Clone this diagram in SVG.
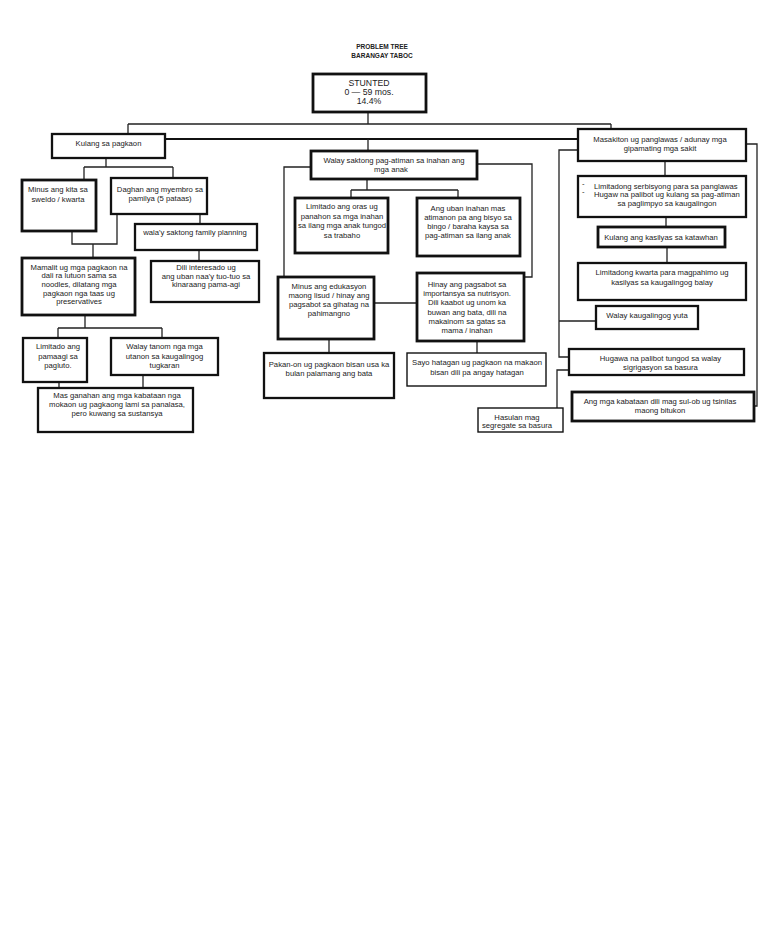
<svg xmlns="http://www.w3.org/2000/svg" width="768" height="932" viewBox="0 0 768 932">
<style>
.bg{fill:#fff}
.box{fill:#fff;stroke:#111;stroke-width:2.3}
.xb{fill:#fff;stroke:#111;stroke-width:2.8}
.tb{fill:#fff;stroke:#111;stroke-width:1.4}
.c{fill:none;stroke:#222;stroke-width:1.3}
.ct{fill:none;stroke:#111;stroke-width:2}
text{font-family:"Liberation Sans",Arial,sans-serif;font-size:7.7px;fill:#222;text-anchor:middle}
.big{font-size:8.7px}
.ttl{font-size:6.5px;font-weight:bold}
.st{text-anchor:start}
</style>
<rect class="bg" x="0" y="0" width="768" height="932"/>
<g id="title">
<text class="ttl" x="382" y="48.5">PROBLEM TREE</text>
<text class="ttl" x="382" y="57.5">BARANGAY TABOC</text>
</g>
<g id="connectors">
<path class="c" d="M368,112V124M128,124H611M128,124V134M611,124V129"/>
<path class="ct" d="M165,139H578"/>
<path class="c" d="M368,139V151"/>
<path class="c" d="M477,164H532V277H524"/>
<path class="c" d="M311,167H284V277"/>
<path class="c" d="M367,179V190M351,190H458M351,190V198M458,190V198"/>
<path class="c" d="M106,158V167M84,167H173M84,167V180M173,167V178"/>
<path class="c" d="M200,214V224M199,250V261"/>
<path class="c" d="M72,231V244H117V214M93,244V258"/>
<path class="c" d="M85,315V328M58,328H162M58,328V338M162,328V338"/>
<path class="c" d="M59,382V388M143,375V388"/>
<path class="c" d="M374,303H417"/>
<path class="c" d="M329,339V353M477,341V353"/>
<path class="c" d="M665,161V176M666,217V227M667,247V263"/>
<path class="c" d="M578,150H559V357H569M559,321H596"/>
<path class="c" d="M569,370H557V408"/>
<path class="c" d="M746,144H757V406H754"/>
</g>
<g id="stunted">
<rect class="xb" x="313" y="74" width="113" height="38"/>
<text class="big" x="369" y="85.5">STUNTED</text>
<text class="big" x="369" y="94.8">0 — 59 mos.</text>
<text class="big" x="369" y="104">14.4%</text>
</g>
<g id="kulang-pagkaon">
<rect class="box" x="52" y="134" width="113" height="24"/>
<text x="108.5" y="145.5">Kulang sa pagkaon</text>
</g>
<g id="masakiton">
<rect class="box" x="578" y="129" width="168" height="32"/>
<text x="660" y="141.7">Masakiton ug panglawas /  adunay mga</text>
<text x="660" y="151">gipamating mga sakit</text>
</g>
<g id="walay-saktong">
<rect class="xb" x="311" y="151" width="166" height="28"/>
<text x="394" y="162.7">Walay saktong pag-atiman sa inahan ang</text>
<text x="391" y="171.7">mga anak</text>
</g>
<g id="minus-kita">
<rect class="xb" x="22" y="180" width="74" height="51"/>
<text x="58" y="192">Minus ang kita sa</text>
<text x="58" y="201.5">sweldo / kwarta</text>
</g>
<g id="daghan">
<rect class="box" x="111" y="178" width="96" height="36"/>
<text x="160" y="191.5">Daghan ang myembro sa</text>
<text x="160" y="201">pamilya (5 pataas)</text>
</g>
<g id="family-planning">
<rect class="box" x="135" y="224" width="122" height="26"/>
<text x="195" y="235.4">wala'y saktong family planning</text>
</g>
<g id="dili-interesado">
<rect class="box" x="151" y="261" width="108" height="41"/>
<text x="206" y="270">Dili interesado ug</text>
<text x="206" y="278.5">ang uban naa'y tuo-tuo sa</text>
<text x="206" y="287">kinaraang pama-agi</text>
</g>
<g id="mamalit">
<rect class="xb" x="22" y="258" width="113" height="57"/>
<text x="79" y="269.5">Mamalit ug mga pagkaon na</text>
<text x="79" y="278.2">dali ra lutuon sama sa</text>
<text x="79" y="286.9">noodles, dilatang mga</text>
<text x="79" y="295.6">pagkaon nga taas ug</text>
<text x="79" y="304.3">preservatives</text>
</g>
<g id="limitado-pamaagi">
<rect class="box" x="23" y="338" width="64" height="44"/>
<text x="58" y="349.4">Limitado ang</text>
<text x="58" y="358.6">pamaagi sa</text>
<text x="58" y="367.8">pagluto.</text>
</g>
<g id="walay-tanom">
<rect class="box" x="111" y="338" width="107" height="37"/>
<text x="164.5" y="349.4">Walay tanom nga mga</text>
<text x="164.5" y="358.6">utanon sa kaugalingog</text>
<text x="164.5" y="367.8">tugkaran</text>
</g>
<g id="mas-ganahan">
<rect class="box" x="38" y="388" width="155" height="44"/>
<text x="117" y="397.7">Mas ganahan ang mga kabataan nga</text>
<text x="117" y="406.9">mokaon ug pagkaong lami sa panalasa,</text>
<text x="117" y="416.1">pero kuwang sa sustansya</text>
</g>
<g id="limitado-oras">
<rect class="xb" x="295" y="198" width="93" height="55"/>
<text x="342" y="209.4">Limitado ang oras ug</text>
<text x="342" y="218.8">panahon sa mga inahan</text>
<text x="342" y="228.2">sa ilang mga anak tungod</text>
<text x="342" y="237.6">sa trabaho</text>
</g>
<g id="ang-uban-inahan">
<rect class="xb" x="417" y="198" width="103" height="58"/>
<text x="468" y="210.5">Ang uban inahan mas</text>
<text x="468" y="219.6">atimanon pa ang bisyo sa</text>
<text x="468" y="228.7">bingo / baraha kaysa sa</text>
<text x="468" y="237.8">pag-atiman sa ilang anak</text>
</g>
<g id="minus-edukasyon">
<rect class="xb" x="278" y="277" width="96" height="62"/>
<text x="329" y="288.7">Minus ang edukasyon</text>
<text x="329" y="297.7">maong lisud /  hinay ang</text>
<text x="329" y="306.7">pagsabot sa gihatag na</text>
<text x="329" y="315.5">pahimangno</text>
</g>
<g id="hinay-pagsabot">
<rect class="xb" x="417" y="273" width="107" height="68"/>
<text x="467" y="286.7">Hinay ang pagsabot sa</text>
<text x="467" y="296">importansya sa nutrisyon.</text>
<text x="467" y="305.3">Dili kaabot ug unom ka</text>
<text x="467" y="314.6">buwan ang bata,  dili na</text>
<text x="467" y="323.9">makainom sa gatas sa</text>
<text x="467" y="333.2">mama /  inahan</text>
</g>
<g id="pakan-on">
<rect class="box" x="264" y="353" width="130" height="45"/>
<text x="329" y="367">Pakan-on ug pagkaon bisan usa ka</text>
<text x="329" y="376">bulan palamang ang bata</text>
</g>
<g id="sayo-hatagan">
<rect class="tb" x="407" y="353" width="139" height="33"/>
<text x="477" y="365.4">Sayo hatagan ug pagkaon na makaon</text>
<text x="477" y="374.8">bisan dili pa angay hatagan</text>
</g>
<g id="limitadong-serbisyo">
<rect class="box" x="578" y="176" width="168" height="41"/>
<text class="st" x="582" y="186.3">-</text>
<text class="st" x="594" y="188.7">Limitadong serbisyong para sa panglawas</text>
<text class="st" x="582" y="194.3">-</text>
<text class="st" x="594" y="197">Hugaw na palibot ug kulang sa pag-atiman</text>
<text x="667" y="206">sa paglimpyo sa kaugalingon</text>
</g>
<g id="kulang-kasilyas">
<rect class="xb" x="598" y="227" width="127" height="20"/>
<text x="661" y="240">Kulang ang kasilyas sa katawhan</text>
</g>
<g id="limitadong-kwarta">
<rect class="box" x="578" y="263" width="168" height="37"/>
<text x="662" y="275.4">Limitadong kwarta para  magpahimo ug</text>
<text x="662" y="285">kasilyas sa kaugalingog balay</text>
</g>
<g id="walay-yuta">
<rect class="box" x="596" y="306" width="102" height="23"/>
<text x="647" y="317.7">Walay kaugalingog yuta</text>
</g>
<g id="hugawa">
<rect class="box" x="569" y="349" width="175" height="26"/>
<text x="660.5" y="361">Hugawa na palibot tungod sa walay</text>
<text x="660.5" y="370">sigrigasyon sa basura</text>
</g>
<g id="ang-mga-kabataan">
<rect class="xb" x="572" y="392" width="182" height="29"/>
<text x="660" y="404.4">Ang mga kabataan dili mag sul-ob ug tsinilas</text>
<text x="660" y="413.4">maong bitukon</text>
</g>
<g id="hasulan">
<rect class="tb" x="478" y="408" width="85" height="24"/>
<text x="517" y="420">Hasulan mag</text>
<text x="517" y="428.4">segregate sa basura</text>
</g>
</svg>
